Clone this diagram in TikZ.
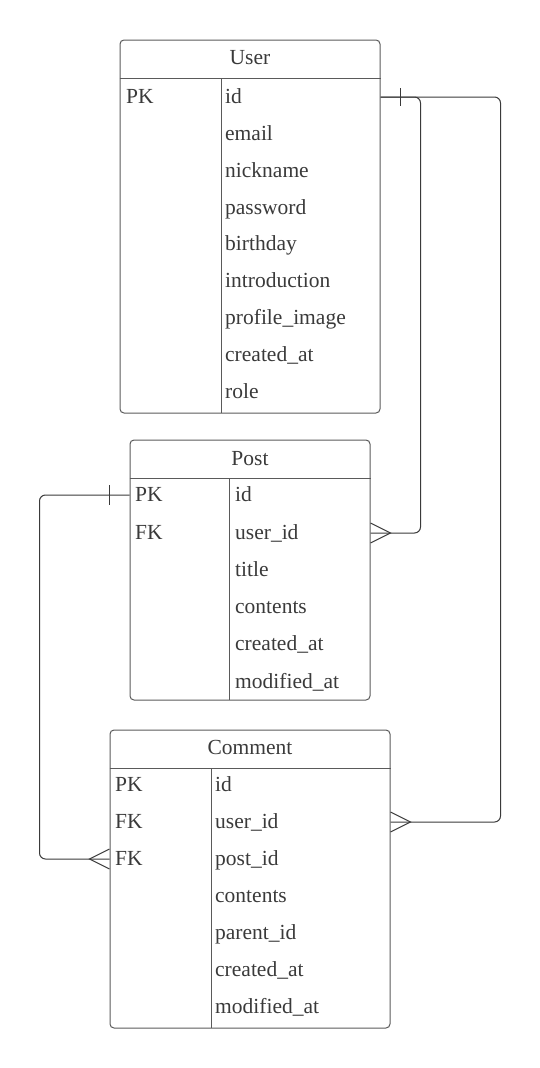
\documentclass[tikz,border=0pt]{standalone}
\usepackage{fontspec}
\setmainfont{Liberation Serif}
\usetikzlibrary{positioning,
calc}
\definecolor{ink}{HTML}{3A3A3A}
\definecolor{edge}{HTML}{5A5A5A}
\tikzstyle{Table} = [
draw=edge,
line width=1pt,
rounded corners=4pt,
inner sep=0pt
]
\tikzstyle{Rule} = [draw=edge, line width=1pt]
\tikzstyle{Field} = [anchor=west, inner sep=0pt, text=ink,
font=\fontsize{21.5}{25}\selectfont, text height=16pt, text depth=3pt]
\tikzstyle{Title} = [Field, anchor=center]
\tikzstyle{Link} = [draw=ink, line width=1pt, rounded corners=6pt]
\tikzstyle{Foot} = [draw=ink, line width=1pt]

\begin{document}
\begin{tikzpicture}[x=1pt, y=-1pt]
   \useasboundingbox (0,0) rectangle (540,1068);

   % User
   \node [Table, minimum width=260pt, minimum height=373pt] (user) at (250,226.5) {};
   \draw [Rule] (user.west |- 0,78) -- (user.east |- 0,78);
   \draw [Rule] (221,78) -- (221,413);
   \node [Title] (ut) at (250,58) {User};
   \node [Field] (uk) at (126,97) {PK};
   \node [Field] (u0) at (225,97) {id};
   \node [Field] (u1) at (225,134) {email};
   \node [Field] (u2) at (225,171) {nickname};
   \node [Field] (u3) at (225,208) {password};
   \node [Field] (u4) at (225,244) {birthday};
   \node [Field] (u5) at (225,281) {introduction};
   \node [Field] (u6) at (225,318) {profile\_image};
   \node [Field] (u7) at (225,355) {created\_at};
   \node [Field] (u8) at (225,392) {role};

   % Post
   \node [Table, minimum width=240pt, minimum height=260pt] (post) at (250,570) {};
   \draw [Rule] (post.west |- 0,478) -- (post.east |- 0,478);
   \draw [Rule] (229,478) -- (229,700);
   \node [Title] (pt) at (250,459) {Post};
   \node [Field] (pk0) at (135,495) {PK};
   \node [Field] (pk1) at (135,533) {FK};
   \node [Field] (p0) at (235,495) {id};
   \node [Field] (p1) at (235,533) {user\_id};
   \node [Field] (p2) at (235,570) {title};
   \node [Field] (p3) at (235,607) {contents};
   \node [Field] (p4) at (235,644) {created\_at};
   \node [Field] (p5) at (235,682) {modified\_at};

   % Comment
   \node [Table, minimum width=280pt, minimum height=298pt] (comment) at (250,879) {};
   \draw [Rule] (comment.west |- 0,768) -- (comment.east |- 0,768);
   \draw [Rule] (211,768) -- (211,1028);
   \node [Title] (ct) at (250,748) {Comment};
   \node [Field] (ck0) at (115,785) {PK};
   \node [Field] (ck1) at (115,822) {FK};
   \node [Field] (ck2) at (115,859) {FK};
   \node [Field] (c0) at (215,785) {id};
   \node [Field] (c1) at (215,822) {user\_id};
   \node [Field] (c2) at (215,859) {post\_id};
   \node [Field] (c3) at (215,896) {contents};
   \node [Field] (c4) at (215,933) {parent\_id};
   \node [Field] (c5) at (215,970) {created\_at};
   \node [Field] (c6) at (215,1007) {modified\_at};

   % links
   \draw [Link] (user.east |- u0) -| ($(post.east |- p1)+(50,0)$) -- (post.east |- p1);
   \draw [Link] (user.east |- u0) -| ($(comment.east |- c1)+(110,0)$) -- (comment.east |- c1);
   \draw [Link] (post.west |- p0) -| ($(comment.west |- c2)+(-70,0)$) -- (comment.west |- c2);

   \draw [Foot] ($(user.east |- u0)+(20,-9)$) -- ++(0,18);
   \draw [Foot] ($(post.west |- p0)+(-20,-10)$) -- ++(0,20);
   \draw [Foot] ($(post.east |- p1)+(0,-10)$) -- ($(post.east |- p1)+(20,0)$) -- ($(post.east |- p1)+(0,10)$);
   \draw [Foot] ($(comment.east |- c1)+(0,-10)$) -- ($(comment.east |- c1)+(20,0)$) -- ($(comment.east |- c1)+(0,10)$);
   \draw [Foot] ($(comment.west |- c2)+(0,-10)$) -- ($(comment.west |- c2)+(-20,0)$) -- ($(comment.west |- c2)+(0,10)$);
\end{tikzpicture}
\end{document}
